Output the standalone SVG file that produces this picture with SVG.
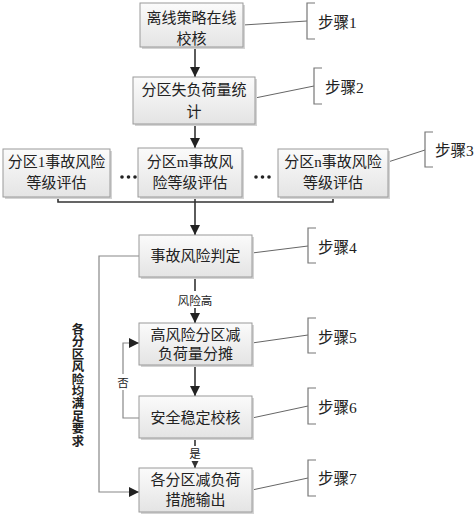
<svg xmlns="http://www.w3.org/2000/svg" width="474" height="516" viewBox="0 0 474 516">
<defs>
<linearGradient id="g" x1="0" y1="0" x2="0" y2="1">
<stop offset="0" stop-color="#fbfbfb"/>
<stop offset="1" stop-color="#e4e4e4"/>
</linearGradient>
<marker id="ah" markerUnits="userSpaceOnUse" markerWidth="10" markerHeight="10" refX="10" refY="5" orient="auto">
<path d="M0,0 L10,5 L0,10 z" fill="#222"/>
</marker>
<marker id="ahs" markerUnits="userSpaceOnUse" markerWidth="8" markerHeight="8" refX="8" refY="4" orient="auto">
<path d="M0,0 L8,4 L0,8 z" fill="#333"/>
</marker>
</defs>
<style>
.box{fill:url(#g);stroke:#9a9a9a;stroke-width:1}
.sh{fill:#d4d4d4}
.t{font-family:"Liberation Serif","Noto Sans CJK SC",serif;font-size:15px;fill:#222;text-anchor:middle;dominant-baseline:central}
.s{font-family:"Liberation Serif","Noto Sans CJK SC",serif;font-size:15.5px;fill:#222;dominant-baseline:central}
.lb{font-family:"Noto Sans CJK SC",sans-serif;font-size:11.5px;fill:#222;text-anchor:middle;dominant-baseline:central}
.vt{font-family:"Noto Sans CJK SC",sans-serif;font-size:12.4px;font-weight:bold;fill:#222;text-anchor:middle;writing-mode:vertical-rl}
.flow{fill:none;stroke:#333;stroke-width:1.6}
.loop{fill:none;stroke:#888;stroke-width:1.2}
.br{fill:none;stroke:#777;stroke-width:1.2}
.cn{fill:none;stroke:#666;stroke-width:1}
</style>
<g id="connectors">
<line class="flow" x1="195" y1="47" x2="195" y2="77" marker-end="url(#ah)"/>
<line class="flow" x1="195" y1="124" x2="195" y2="148" marker-end="url(#ah)"/>
<path class="flow" d="M58,197 V202 H333 V197"/>
<line class="flow" x1="195" y1="197" x2="195" y2="235" marker-end="url(#ah)"/>
<line class="flow" x1="195" y1="277" x2="195" y2="323" marker-end="url(#ah)"/>
<line class="flow" x1="195" y1="365" x2="195" y2="396" marker-end="url(#ah)"/>
<line class="flow" x1="195" y1="438" x2="195" y2="468" stroke-width="1.3" marker-end="url(#ahs)"/>
<path class="loop" d="M139,256 H99 V492 H139" marker-end="url(#ah)"/>
<path class="loop" d="M139,418 H123 V343 H139" marker-end="url(#ah)"/>
<rect x="174" y="291" width="42" height="17" fill="#fff"/>
<text class="lb" x="195" y="300">风险高</text>
<rect x="116" y="374" width="14" height="16" fill="#fff"/>
<text class="lb" x="123" y="382">否</text>
<rect x="188" y="446" width="14" height="15" fill="#fff"/>
<text class="lb" x="195" y="453">是</text>
<line class="cn" x1="243" y1="25" x2="307" y2="21"/>
<line class="cn" x1="255" y1="98" x2="314" y2="86"/>
<line class="cn" x1="388" y1="162" x2="425" y2="150"/>
<line class="cn" x1="252" y1="253" x2="308" y2="246"/>
<line class="cn" x1="252" y1="343" x2="308" y2="335"/>
<line class="cn" x1="252" y1="418" x2="308" y2="406"/>
<line class="cn" x1="252" y1="490" x2="308" y2="478"/>
</g>
<g id="n1"><rect class="sh" x="142" y="5" width="103" height="44"/><rect class="box" x="140" y="3" width="103" height="44"/><text class="t" x="191.5" y="18">离线策略在线</text><text class="t" x="191.5" y="39">校核</text></g>
<g id="n2"><rect class="sh" x="135" y="79" width="122" height="47"/><rect class="box" x="133" y="77" width="122" height="47"/><text class="t" x="194" y="90">分区失负荷量统</text><text class="t" x="194" y="112">计</text></g>
<g id="n3a"><rect class="sh" x="5" y="151" width="107" height="48"/><rect class="box" x="3" y="149" width="107" height="48"/><text class="t" x="56.5" y="162">分区1事故风险</text><text class="t" x="56.5" y="183">等级评估</text></g>
<g id="n3b"><rect class="sh" x="140" y="150" width="104" height="49"/><rect class="box" x="138" y="148" width="104" height="49"/><text class="t" x="190" y="162">分区m事故风</text><text class="t" x="190" y="183">险等级评估</text></g>
<g id="n3c"><rect class="sh" x="280" y="151" width="110" height="48"/><rect class="box" x="278" y="149" width="110" height="48"/><text class="t" x="333" y="162">分区n事故风险</text><text class="t" x="333" y="183">等级评估</text></g>
<g id="dots" fill="#222"><circle cx="122" cy="177" r="1.8"/><circle cx="128.5" cy="177" r="1.8"/><circle cx="135" cy="177" r="1.8"/><circle cx="256" cy="177" r="1.8"/><circle cx="262.5" cy="177" r="1.8"/><circle cx="269" cy="177" r="1.8"/></g>
<g id="n4"><rect class="sh" x="141" y="237" width="113" height="42"/><rect class="box" x="139" y="235" width="113" height="42"/><text class="t" x="195.5" y="256">事故风险判定</text></g>
<g id="n5"><rect class="sh" x="141" y="325" width="113" height="42"/><rect class="box" x="139" y="323" width="113" height="42"/><text class="t" x="195.5" y="335">高风险分区减</text><text class="t" x="195.5" y="354">负荷量分摊</text></g>
<g id="n6"><rect class="sh" x="141" y="398" width="113" height="42"/><rect class="box" x="139" y="396" width="113" height="42"/><text class="t" x="195.5" y="418">安全稳定校核</text></g>
<g id="n7"><rect class="sh" x="141" y="470" width="113" height="44"/><rect class="box" x="139" y="468" width="113" height="44"/><text class="t" x="195.5" y="480">各分区减负荷</text><text class="t" x="195.5" y="500">措施输出</text></g>
<g id="vlabel"><text class="vt" x="78" y="385">各分区风险均满足要求</text></g>
<g id="steps">
<path class="br" d="M315,3 H307 V39 H315"/><text class="s" x="318" y="22">步骤1</text>
<path class="br" d="M322,68 H314 V104 H322"/><text class="s" x="325" y="87">步骤2</text>
<path class="br" d="M433,132 H425 V167 H433"/><text class="s" x="435" y="150">步骤3</text>
<path class="br" d="M316,228 H308 V263 H316"/><text class="s" x="318" y="247">步骤4</text>
<path class="br" d="M316,318 H308 V353 H316"/><text class="s" x="318" y="337">步骤5</text>
<path class="br" d="M316,388 H308 V424 H316"/><text class="s" x="318" y="407">步骤6</text>
<path class="br" d="M316,460 H308 V496 H316"/><text class="s" x="318" y="478">步骤7</text>
</g>
</svg>
